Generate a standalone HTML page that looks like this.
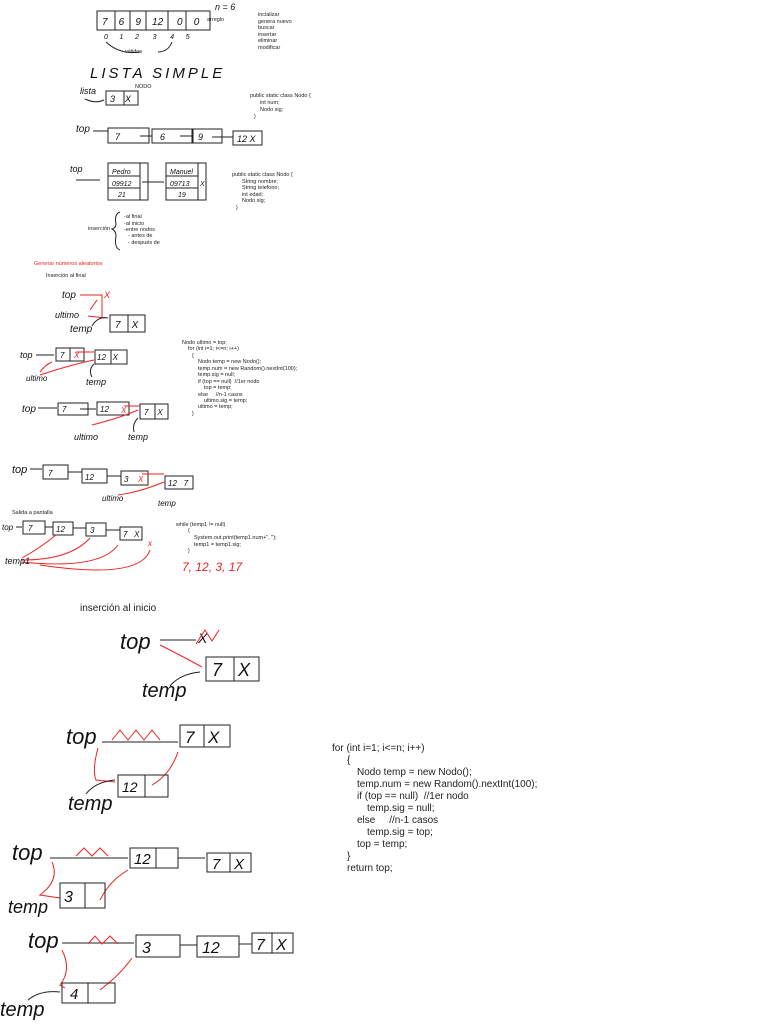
<!DOCTYPE html>
<html><head><meta charset="utf-8"><style>
html,body{margin:0;padding:0;background:#fff;width:768px;height:1024px;overflow:hidden}
svg{display:block}
text{white-space:pre}
.t{font-family:"Liberation Sans",sans-serif;fill:#222}
.s{font-size:5.5px}
.m{font-size:10px}
.h{font-family:"Liberation Sans",sans-serif;fill:#111;font-style:italic}
path,rect,line,polyline{fill:none;stroke:#222;stroke-width:1}
.r{stroke:#e22}
.rt{fill:#e22}
</style></head><body>
<svg width="768" height="1024" viewBox="0 0 768 1024">
<!-- array -->
<rect x="97" y="11" width="113" height="19"/>
<line x1="115" y1="11" x2="115" y2="30"/><line x1="130" y1="11" x2="130" y2="30"/><line x1="146" y1="11" x2="146" y2="30"/><line x1="168" y1="11" x2="168" y2="30"/><line x1="186" y1="11" x2="186" y2="30"/>
<text class="h" font-size="10" x="102" y="25">7    6    9    12     0    0</text>
<text class="h" font-size="7" x="104" y="39">0      1      2       3       4      5</text>
<text class="h" font-size="9" x="215" y="10">n = 6</text>
<text class="t s" x="207" y="21">arreglo</text>
<path d="M106 42 Q120 55 140 52 M158 52 Q168 52 172 42"/>
<text class="t s" x="125" y="53">válidos</text>
<text class="t s" x="258" y="16">incializar</text><text class="t s" x="258" y="23">genera nuevo</text><text class="t s" x="258" y="29">buscar</text><text class="t s" x="258" y="36">insertar</text><text class="t s" x="258" y="42">eliminar</text><text class="t s" x="258" y="49">modificar</text>
<text class="h" font-size="15" x="90" y="78" letter-spacing="3" font-style="normal" style="font-family:'Liberation Sans',sans-serif">LISTA SIMPLE</text>
<text class="t s" x="135" y="88">NODO</text>
<text class="h" font-size="9" x="80" y="94">lista</text>
<path d="M85 99 Q95 104 104 100"/>
<rect x="106" y="91" width="32" height="14"/><line x1="124" y1="91" x2="124" y2="105"/>
<text class="h" font-size="9" x="110" y="102">3    X</text>
<text class="t s" x="250" y="97">public static class Nodo {</text><text class="t s" x="260" y="104">int num;</text><text class="t s" x="260" y="111">Nodo sig;</text><text class="t s" x="254" y="118">}</text>
<text class="h" font-size="10" x="76" y="132">top</text>
<path d="M93 131 H108"/>
<rect x="108" y="128" width="41" height="15"/><rect x="152" y="129" width="40" height="14"/><rect x="193" y="129" width="29" height="14"/><rect x="233" y="131" width="29" height="14"/>
<text class="h" font-size="9" x="115" y="140">7</text><text class="h" font-size="9" x="160" y="140">6</text><text class="h" font-size="9" x="198" y="140">9</text><text class="h" font-size="9" x="237" y="142">12 X</text>
<path d="M140 136 H152 M180 136 H193 M212 137 H233"/>
<text class="h" font-size="9" x="70" y="172">top</text>
<path d="M76 180 H100"/>
<rect x="108" y="163" width="40" height="37"/><line x1="108" y1="176" x2="140" y2="176"/><line x1="108" y1="188" x2="140" y2="188"/><line x1="140" y1="163" x2="140" y2="200"/>
<rect x="166" y="163" width="40" height="37"/><line x1="166" y1="176" x2="198" y2="176"/><line x1="166" y1="188" x2="198" y2="188"/><line x1="198" y1="163" x2="198" y2="200"/>
<path d="M142 182 H164"/>
<text class="h" font-size="7" x="112" y="174">Pedro</text><text class="h" font-size="7" x="112" y="186">09912</text><text class="h" font-size="7" x="118" y="197">21</text>
<text class="h" font-size="7" x="170" y="174">Manuel</text><text class="h" font-size="7" x="170" y="186">09713</text><text class="h" font-size="7" x="178" y="197">19</text><text class="h" font-size="7" x="200" y="186">X</text>
<text class="t s" x="232" y="176">public static class Nodo {</text><text class="t s" x="242" y="183">String nombre;</text><text class="t s" x="242" y="189">String telefono;</text><text class="t s" x="242" y="196">int edad;</text><text class="t s" x="242" y="202">Nodo sig;</text><text class="t s" x="236" y="209">}</text>
<text class="t s" x="88" y="230">inserción</text>
<path d="M120 212 Q114 214 116 224 Q116 228 112 229 Q116 231 116 236 Q114 248 120 250"/>
<text class="t s" x="124" y="218">-al final</text><text class="t s" x="124" y="225">-al inicio</text><text class="t s" x="124" y="231">-entre nodos</text><text class="t s" x="128" y="237">- antes de</text><text class="t s" x="128" y="244">- después de</text>
<text class="t s rt" x="34" y="265">Generar números aleatorios</text>
<text class="t s" x="46" y="277">Inserción al final</text>
<!-- inserción al final diagrams -->
<text class="h" font-size="10" x="62" y="298">top</text><path d="M80 295 H100"/><text class="h rt" font-size="9" x="104" y="298" style="fill:#e22">X</text>
<path class="r" d="M80 295 H102 V318 M90 310 L97 300"/>
<text class="h" font-size="9" x="55" y="318">ultimo</text>
<path class="r" d="M88 316 L105 318"/>
<text class="h" font-size="10" x="70" y="332">temp</text><path d="M92 326 Q98 316 108 318"/>
<rect x="110" y="315" width="35" height="17"/><line x1="128" y1="315" x2="128" y2="332"/><text class="h" font-size="10" x="115" y="328">7    X</text>
<text class="h" font-size="9" x="20" y="358">top</text><path d="M36 355 H54"/>
<rect x="56" y="348" width="28" height="13"/><line x1="70" y1="348" x2="70" y2="361"/><text class="h" font-size="8" x="60" y="358">7</text><text class="h rt" font-size="8" x="74" y="358" style="fill:#e22">X</text>
<rect x="95" y="350" width="32" height="14"/><line x1="111" y1="350" x2="111" y2="364"/><text class="h" font-size="8" x="97" y="360">12   X</text>
<path class="r" d="M76 352 H94 M40 375 Q70 365 94 360 M40 372 Q45 365 52 362"/>
<text class="h" font-size="8" x="26" y="381">ultimo</text><text class="h" font-size="9" x="86" y="385">temp</text><path d="M92 377 Q88 370 94 364"/>
<text class="h" font-size="10" x="22" y="412">top</text><path d="M38 408 H57"/>
<rect x="58" y="403" width="30" height="12"/><rect x="97" y="402" width="32" height="13"/><text class="h" font-size="8" x="62" y="412">7</text><text class="h" font-size="8" x="100" y="412">12</text><text class="h rt" font-size="8" x="121" y="413" style="fill:#e22">X</text>
<rect x="140" y="404" width="28" height="15"/><line x1="155" y1="404" x2="155" y2="419"/><text class="h" font-size="8" x="144" y="415">7    X</text>
<path d="M80 409 H96"/><path class="r" d="M124 406 H140 M92 425 Q120 418 138 410"/>
<text class="h" font-size="9" x="74" y="440">ultimo</text><text class="h" font-size="9" x="128" y="440">temp</text><path d="M134 432 Q132 424 138 418"/>
<text class="h" font-size="11" x="12" y="473">top</text><path d="M30 469 H42"/>
<rect x="43" y="465" width="25" height="14"/><rect x="82" y="469" width="25" height="14"/><rect x="121" y="471" width="27" height="14"/><rect x="165" y="476" width="28" height="13"/>
<text class="h" font-size="8" x="48" y="476">7</text><text class="h" font-size="8" x="85" y="480">12</text><text class="h" font-size="8" x="124" y="482">3</text><text class="h rt" font-size="8" x="138" y="482" style="fill:#e22">X</text><text class="h" font-size="8" x="168" y="486">12   7</text>
<path d="M68 472 H82 M107 476 H121"/><path class="r" d="M142 474 H164 M118 495 Q140 492 164 482"/>
<text class="h" font-size="8" x="102" y="501">ultimo</text><text class="h" font-size="8" x="158" y="506">temp</text>
<text class="t s" x="12" y="514">Salida a pantalla</text>
<text class="h" font-size="8" x="2" y="530">top</text><path d="M16 527 H22"/>
<rect x="23" y="521" width="22" height="13"/><rect x="53" y="522" width="20" height="13"/><rect x="86" y="523" width="20" height="13"/><rect x="120" y="527" width="22" height="13"/>
<text class="h" font-size="8" x="28" y="531">7</text><text class="h" font-size="8" x="56" y="532">12</text><text class="h" font-size="8" x="90" y="533">3</text><text class="h" font-size="8" x="123" y="537">7   X</text>
<path d="M45 527 H53 M73 528 H86 M106 530 H120"/>
<path class="r" d="M22 558 Q40 548 56 535 M22 560 Q70 560 90 538 M22 562 Q100 570 118 545 M40 565 Q140 580 150 550"/>
<text class="h rt" font-size="8" x="148" y="546" style="fill:#e22">x</text>
<text class="h" font-size="9" x="5" y="564">temp1</text>
<text class="t s" x="176" y="526">while (temp1 != null)</text><text class="t s" x="188" y="532">{</text><text class="t s" x="194" y="539">System.out.print(temp1.num+", ");</text><text class="t s" x="194" y="546">temp1 = temp1.sig;</text><text class="t s" x="188" y="552">}</text>
<text class="h" font-size="12" x="182" y="571" style="fill:#e22">7, 12, 3, 17</text>
<text class="t s" x="182" y="344">Nodo ultimo = top;</text><text class="t s" x="188" y="350">for (int i=1; i&lt;=n; i++)</text><text class="t s" x="192" y="357">{</text><text class="t s" x="198" y="363">Nodo temp = new Nodo();</text><text class="t s" x="198" y="370">temp.num = new Random().nextInt(100);</text><text class="t s" x="198" y="376">temp.sig = null;</text><text class="t s" x="198" y="383">if (top == null)  //1er nodo</text><text class="t s" x="204" y="389">top = temp;</text><text class="t s" x="198" y="396">else     //n-1 casos</text><text class="t s" x="204" y="402">ultimo.sig = temp;</text><text class="t s" x="198" y="408">ultimo = temp;</text><text class="t s" x="192" y="415">}</text>
<!-- inserción al inicio -->
<text class="t" font-size="10" x="80" y="611">inserción al inicio</text>
<text class="h" font-size="22" x="120" y="649">top</text><path d="M160 640 H196"/><text class="h" font-size="14" x="198" y="643">X</text>
<path class="r" d="M196 644 L205 630 L212 641 L219 630"/><path class="r" d="M160 645 Q180 655 202 667"/>
<rect x="206" y="657" width="53" height="24"/><line x1="234" y1="657" x2="234" y2="681"/><text class="h" font-size="18" x="212" y="676">7</text><text class="h" font-size="18" x="238" y="676">X</text>
<text class="h" font-size="20" x="142" y="697">temp</text><path d="M170 686 Q180 674 200 672"/>
<text class="h" font-size="22" x="66" y="744">top</text><path d="M102 742 H178"/><path class="r" d="M112 740 L120 730 L128 740 L136 730 L144 740 L152 730 L160 740"/>
<rect x="180" y="725" width="50" height="22"/><line x1="204" y1="725" x2="204" y2="747"/><text class="h" font-size="17" x="185" y="743">7</text><text class="h" font-size="17" x="208" y="743">X</text>
<path class="r" d="M98 748 Q92 770 96 780 L115 782 M152 785 Q170 775 178 752"/>
<rect x="118" y="775" width="50" height="22"/><line x1="145" y1="775" x2="145" y2="797"/><text class="h" font-size="14" x="122" y="792">12</text>
<text class="h" font-size="20" x="68" y="810">temp</text><path d="M86 794 Q95 782 115 780"/>
<text class="h" font-size="22" x="12" y="860">top</text><path d="M50 858 H128"/><path class="r" d="M76 856 L84 848 L92 856 L100 848 L108 856"/>
<rect x="130" y="848" width="48" height="20"/><line x1="156" y1="848" x2="156" y2="868"/><text class="h" font-size="15" x="134" y="864">12</text>
<path d="M178 858 H205"/><rect x="207" y="853" width="44" height="19"/><line x1="230" y1="853" x2="230" y2="872"/><text class="h" font-size="15" x="212" y="869">7</text><text class="h" font-size="15" x="234" y="869">X</text>
<path class="r" d="M52 862 Q60 880 40 895 L60 898 M100 900 Q110 880 128 870"/>
<rect x="60" y="883" width="45" height="25"/><line x1="85" y1="883" x2="85" y2="908"/><text class="h" font-size="16" x="64" y="902">3</text>
<text class="h" font-size="18" x="8" y="913">temp</text>
<text class="h" font-size="22" x="28" y="948">top</text><path d="M62 943 H134"/><path class="r" d="M88 944 L95 936 L102 944 L110 936 L118 944"/>
<rect x="136" y="935" width="44" height="22"/><rect x="197" y="936" width="42" height="21"/><rect x="252" y="933" width="41" height="20"/><line x1="272" y1="933" x2="272" y2="953"/>
<text class="h" font-size="16" x="142" y="953">3</text><text class="h" font-size="16" x="202" y="953">12</text><text class="h" font-size="16" x="256" y="950">7</text><text class="h" font-size="16" x="276" y="950">X</text>
<path d="M180 945 H197 M239 944 H252"/>
<path class="r" d="M62 950 Q72 970 60 985 L65 988 M100 990 Q120 975 132 958"/>
<rect x="62" y="983" width="53" height="20"/><line x1="88" y1="983" x2="88" y2="1003"/><text class="h" font-size="15" x="70" y="999">4</text>
<text class="h" font-size="20" x="0" y="1016">temp</text><path d="M28 1000 Q40 990 60 992"/>
<g class="t" font-size="10">
<text x="332" y="751">for (int i=1; i&lt;=n; i++)</text>
<text x="347" y="763">{</text>
<text x="357" y="775">Nodo temp = new Nodo();</text>
<text x="357" y="787">temp.num = new Random().nextInt(100);</text>
<text x="357" y="799">if (top == null)  //1er nodo</text>
<text x="367" y="811">temp.sig = null;</text>
<text x="357" y="823">else     //n-1 casos</text>
<text x="367" y="835">temp.sig = top;</text>
<text x="357" y="847">top = temp;</text>
<text x="347" y="859">}</text>
<text x="347" y="871">return top;</text>
</g>
</svg>
</body></html>
